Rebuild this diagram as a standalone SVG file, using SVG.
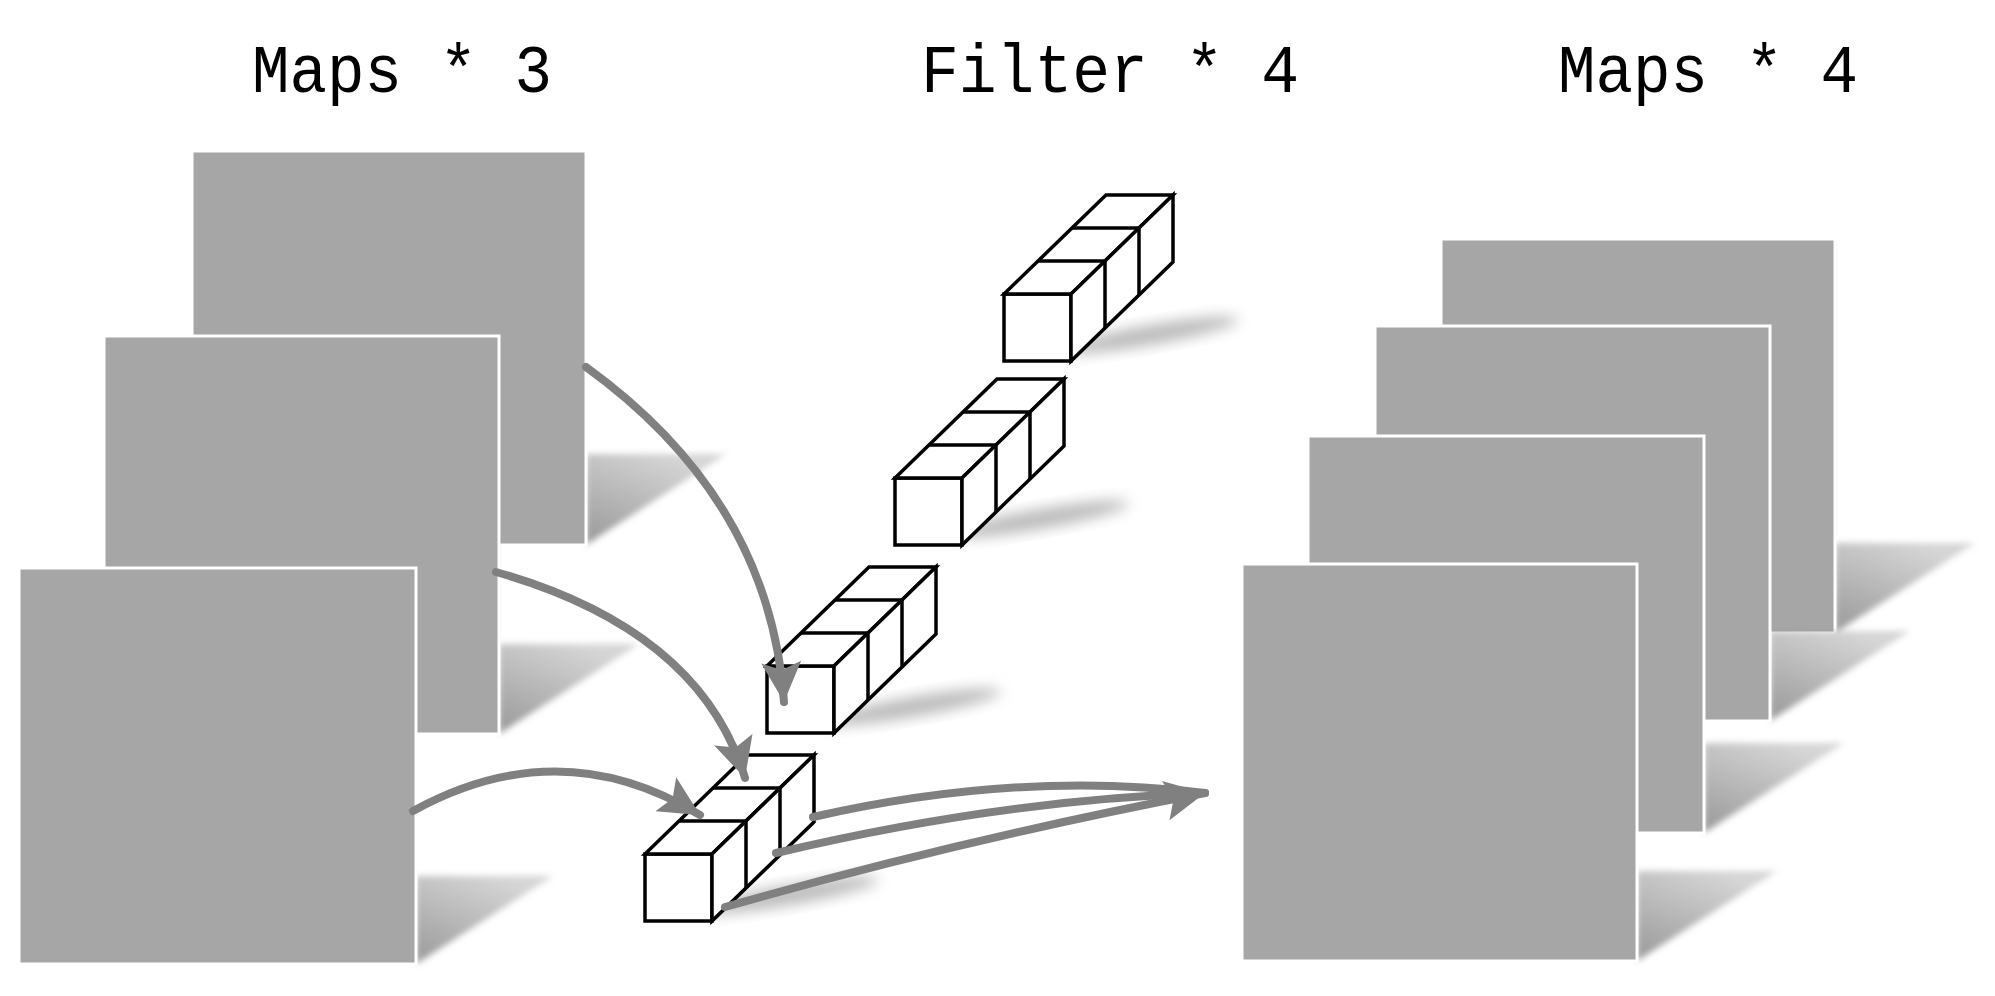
<svg xmlns="http://www.w3.org/2000/svg" width="1995" height="996" viewBox="0 0 1995 996">
<style>
.t{font-family:"Liberation Mono","DejaVu Sans Mono",monospace;font-size:68px;fill:#000}
.map{fill:#a6a6a6;stroke:#fff;stroke-width:3}
.sh{fill:url(#sg);filter:url(#bl)}
.cb{fill:#fff;stroke:#000;stroke-width:3.5;stroke-linejoin:miter}
.cs{fill:#bbb;filter:url(#bl2)}
.ar{fill:none;stroke:#808080;stroke-width:8;stroke-linecap:round}
</style>
<defs>
<linearGradient id="sg" x1="0" y1="1" x2="0.6" y2="0"><stop offset="0" stop-color="#999"/><stop offset="1" stop-color="#999" stop-opacity="0.4"/></linearGradient>
<filter id="bl" x="-20%" y="-20%" width="140%" height="140%"><feGaussianBlur stdDeviation="3"/></filter>
<filter id="bl2" x="-50%" y="-50%" width="200%" height="200%"><feGaussianBlur stdDeviation="7"/></filter>
<marker id="ah" markerUnits="userSpaceOnUse" markerWidth="50" markerHeight="50" refX="40" refY="20" orient="auto"><path d="M0,0 L40,20 L0,40 L8,20 Z" fill="#808080"/></marker>
</defs>
<rect width="1995" height="996" fill="#fff"/>
<text class="t" x="252" y="92" textLength="300" lengthAdjust="spacingAndGlyphs">Maps * 3</text>
<text class="t" x="921" y="92" textLength="378" lengthAdjust="spacingAndGlyphs">Filter * 4</text>
<text class="t" x="1558" y="92" textLength="300" lengthAdjust="spacingAndGlyphs">Maps * 4</text>

<g id="maps-in">
<polygon class="sh" points="586,545 586,454 726,454 586,545"/>
<rect class="map" x="192" y="151" width="394" height="394"/>
<polygon class="sh" points="499,734 499,644 639,644 499,734"/>
<rect class="map" x="104" y="336" width="395" height="398"/>
<polygon class="sh" points="416,964 416,876 553,876 416,964"/>
<rect class="map" x="19" y="568" width="397" height="396"/>
</g>
<g id="maps-out">
<polygon class="sh" points="1835,633 1835,543 1975,543 1835,633"/>
<rect class="map" x="1441" y="239" width="394" height="394"/>
<polygon class="sh" points="1770,721 1770,631 1910,631 1770,721"/>
<rect class="map" x="1375" y="326" width="395" height="395"/>
<polygon class="sh" points="1704,833 1704,743 1844,743 1704,833"/>
<rect class="map" x="1308" y="436" width="396" height="397"/>
<polygon class="sh" points="1637,961 1637,871 1777,871 1637,961"/>
<rect class="map" x="1242" y="564" width="395" height="397"/>
</g>

<g id="filter1">
<ellipse class="cs" cx="1150" cy="335" rx="90" ry="10" transform="rotate(-10 1150 335)"/>
<rect class="cb" x="1004" y="294" width="67" height="67"/>
<polygon class="cb" points="1004,294 1071,294 1173,195 1106,195"/>
<polygon class="cb" points="1071,294 1173,195 1173,262 1071,361"/>
<path class="cb" d="M1038,261 L1105,261 M1072,228 L1139,228 M1105,261 L1105,328 M1139,228 L1139,295" fill="none"/>
</g>
<g id="filter2">
<ellipse class="cs" cx="1040" cy="519" rx="90" ry="10" transform="rotate(-10 1040 519)"/>
<rect class="cb" x="895" y="478" width="67" height="67"/>
<polygon class="cb" points="895,478 962,478 1064,379 997,379"/>
<polygon class="cb" points="962,478 1064,379 1064,446 962,545"/>
<path class="cb" d="M929,445 L996,445 M963,412 L1030,412 M996,445 L996,512 M1030,412 L1030,479" fill="none"/>
</g>
<g id="filter3">
<ellipse class="cs" cx="912" cy="707" rx="90" ry="10" transform="rotate(-10 912 707)"/>
<rect class="cb" x="767" y="666" width="67" height="67"/>
<polygon class="cb" points="767,666 834,666 936,567 869,567"/>
<polygon class="cb" points="834,666 936,567 936,634 834,733"/>
<path class="cb" d="M801,633 L868,633 M835,600 L902,600 M868,633 L868,700 M902,600 L902,667" fill="none"/>
</g>
<g id="filter4">
<ellipse class="cs" cx="790" cy="895" rx="90" ry="10" transform="rotate(-10 790 895)"/>
<rect class="cb" x="645" y="854" width="67" height="67"/>
<polygon class="cb" points="645,854 712,854 814,755 747,755"/>
<polygon class="cb" points="712,854 814,755 814,822 712,921"/>
<path class="cb" d="M679,821 L746,821 M713,788 L780,788 M746,821 L746,888 M780,788 L780,855" fill="none"/>
</g>

<g id="connectors">
<path class="ar" d="M586,367 Q770,500 784,702" marker-end="url(#ah)"/>
<path class="ar" d="M496,572 Q700,630 745,778" marker-end="url(#ah)"/>
<path class="ar" d="M413,811 Q560,730 700,815" marker-end="url(#ah)"/>
<path class="ar" d="M813,817 Q1020,770 1205,793"/>
<path class="ar" d="M776,853 Q1000,800 1205,793"/>
<path class="ar" d="M725,907 Q960,840 1205,793" marker-end="url(#ah)"/>
</g>
</svg>
